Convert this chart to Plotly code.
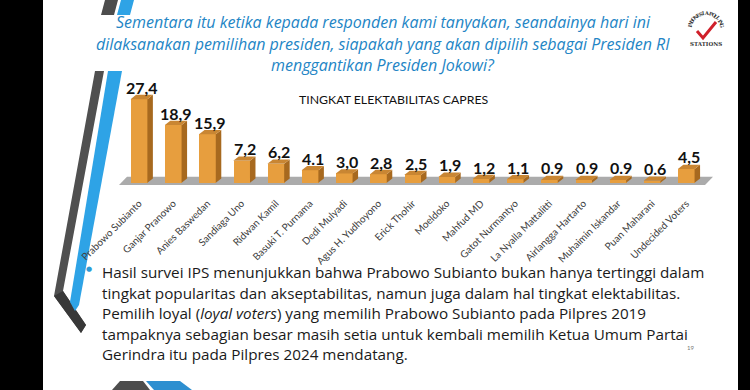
import math
import plotly.graph_objects as go

# ---------------- data ----------------
categories = ["Prabowo Subianto", "Ganjar Pranowo", "Anies Baswedan", "Sandiaga Uno",
              "Ridwan Kamil", "Basuki T. Purnama", "Dedi Mulyadi", "Agus H. Yudhoyono",
              "Erick Thohir", "Moeldoko", "Mahfud MD", "Gatot Nurmantyo",
              "La Nyalla Mattalitti", "Airlangga Hartarto", "Muhaimin Iskandar",
              "Puan Maharani", "Undecided Voters"]
values = [27.4, 18.9, 15.9, 7.2, 6.2, 4.1, 3.0, 2.8, 2.5, 1.9, 1.2, 1.1, 0.9, 0.9, 0.9, 0.6, 4.5]
value_labels = ["27,4", "18,9", "15,9", "7,2", "6,2", "4.1", "3,0", "2,8", "2,5", "1,9",
                "1,2", "1,1", "0.9", "0.9", "0.9", "0.6", "4,5"]
chart_title = "TINGKAT ELEKTABILITAS CAPRES"
header_lines = [
    "Sementara itu ketika kepada responden kami tanyakan, seandainya hari ini",
    "dilaksanakan pemilihan presiden, siapakah yang akan dipilih sebagai Presiden RI",
    "menggantikan Presiden Jokowi?",
]
body_lines = [
    "Hasil survei IPS menunjukkan bahwa Prabowo Subianto bukan hanya tertinggi dalam",
    "tingkat popularitas dan akseptabilitas, namun juga dalam hal tingkat elektabilitas.",
    "Pemilih loyal (<i>loyal voters</i>) yang memilih Prabowo Subianto pada Pilpres 2019",
    "tampaknya sebagian besar masih setia untuk kembali memilih Ketua Umum Partai",
    "Gerindra itu pada Pilpres 2024 mendatang.",
]
logo_arc_text = "INDONESIA POLLING"
logo_bottom_text = "STATIONS"
page_number = "19"

# ---------------- geometry helpers ----------------
W, H = 750, 390
def px(x):
    return x / W
def py(y):
    return 1 - y / H

STEP = 34.2
UNIT = 3.05
X0PX = 139.0
Y0PX = 182.7
xr = [-0.8, 16.9]
yr = [-2.0, 31.0]
xdom = [px(X0PX + STEP * xr[0]), px(X0PX + STEP * xr[1])]
ydom = [py(Y0PX - UNIT * yr[0]), py(Y0PX - UNIT * yr[1])]

BW = 0.49
DX = 5.5 / STEP
DY = 4.3 / UNIT

FRONT = "#E79E3E"
SIDE = "#A7691F"
TOP = "#C98633"

shapes = []
shapes.append(dict(type="rect", xref="paper", yref="paper", x0=px(43), x1=px(738), y0=0, y1=1,
                   fillcolor="white", line_width=0, layer="below"))

def ppath(pts, close=True):
    s = "M" + " L".join(f"{px(a):.5f},{py(b):.5f}" for a, b in pts)
    return s + (" Z" if close else "")

deco = [
    ([(105, 0), (118, 0), (114, 15), (101, 15)], "#4D4D4D"),
    ([(121, 0), (134, 0), (130, 15), (117, 15)], "#2EA3E6"),
    ([(95, 71), (104, 71), (63, 291), (86, 325), (81, 333), (54, 296)], "#505050"),
    ([(54, 296), (63, 291), (86, 325), (81, 333)], "#383838"),
    ([(108, 71), (122, 71), (79, 305), (75, 311), (70, 302)], "#2EA3E6"),
    ([(112, 390), (120, 381), (143, 381), (150, 390)], "#4D4D4D"),
    ([(146, 381), (180, 381), (192, 390), (154, 390)], "#2E8FD0"),
]
for pts, col in deco:
    shapes.append(dict(type="path", xref="paper", yref="paper", path=ppath(pts),
                       fillcolor=col, line_width=0, layer="below"))

# floor
fl_front = -0.75
fl_back = 1.97
fx0 = -0.585
fx1 = 16.55
fsh = 8 / STEP
shapes.append(dict(type="path", xref="x", yref="y", layer="below",
                   path=f"M{fx0},{fl_front} L{fx1},{fl_front} L{fx1+fsh},{fl_back} L{fx0+fsh},{fl_back} Z",
                   fillcolor="#ABABAB", line_width=0))

for i, v in enumerate(values):
    l = i - BW / 2
    r = i + BW / 2
    shapes.append(dict(type="path", xref="x", yref="y", layer="above",
                       path=f"M{r},0 L{r},{v} L{r+DX},{v+DY} L{r+DX},{DY} Z",
                       fillcolor=SIDE, line_width=0))
    shapes.append(dict(type="path", xref="x", yref="y", layer="above",
                       path=f"M{l},{v} L{r},{v} L{r+DX},{v+DY} L{l+DX},{v+DY} Z",
                       fillcolor=TOP, line_width=0))

# logo check mark
shapes.append(dict(type="path", xref="paper", yref="paper",
                   path=ppath([(697, 31), (703, 38), (716, 22)], close=False),
                   line=dict(color="#D0202A", width=3)))

fig = go.Figure()
fig.add_trace(go.Bar(x=categories, y=values, width=BW, marker=dict(color=FRONT, line_width=0),
                     hoverinfo="x+y"))

annotations = []
for i, (v, lab) in enumerate(zip(values, value_labels)):
    annotations.append(dict(x=categories[i], y=v, xref="x", yref="y", text=f"<b>{lab}</b>",
                            showarrow=False, xanchor="center", yanchor="middle", xshift=3, yshift=12,
                            font=dict(family="Lato", size=16, color="#111111")))

annotations.append(dict(x=px(394), y=py(100), xref="paper", yref="paper", text=chart_title,
                        showarrow=False, xanchor="center", yanchor="middle",
                        font=dict(family="Lato", size=12.3, color="#111111")))

for line, yy in zip(header_lines, [22, 43.5, 65]):
    annotations.append(dict(x=px(383), y=py(yy), xref="paper", yref="paper", text=f"<i>{line}</i>",
                            showarrow=False, xanchor="center", yanchor="middle",
                            font=dict(family="Open Sans", size=16, color="#2385C5")))

for line, yy in zip(body_lines, [272, 292.5, 313, 333.5, 354]):
    annotations.append(dict(x=px(100), y=py(yy), xref="paper", yref="paper", text=line,
                            showarrow=False, xanchor="left", yanchor="middle",
                            font=dict(family="Open Sans", size=15.25, color="#1A1A1A")))

annotations.append(dict(x=px(89), y=py(269), xref="paper", yref="paper", text="●",
                        showarrow=False, xanchor="center", yanchor="middle",
                        font=dict(family="DejaVu Sans", size=7, color="#2E9BD6")))
annotations.append(dict(x=px(690), y=py(347), xref="paper", yref="paper", text=page_number,
                        showarrow=False, xanchor="center", yanchor="middle",
                        font=dict(family="Lato", size=6, color="#777777")))

# logo: arc text + bottom word
annotations.append(dict(x=px(706), y=py(44), xref="paper", yref="paper", text=f"<b>{logo_bottom_text}</b>",
                        showarrow=False, xanchor="center", yanchor="middle",
                        font=dict(family="DejaVu Serif", size=5.5, color="#333333")))
cx, cy, rad = 706, 30, 17
n = len(logo_arc_text)
for k, ch in enumerate(logo_arc_text):
    if ch == " ":
        continue
    th = 165 - 150 * k / (n - 1)
    t = math.radians(th)
    annotations.append(dict(x=px(cx + rad * math.cos(t)), y=py(cy - rad * math.sin(t)),
                            xref="paper", yref="paper", text=f"<b>{ch}</b>", showarrow=False,
                            xanchor="center", yanchor="middle", textangle=90 - th,
                            font=dict(family="DejaVu Serif", size=5, color="#333333")))

fig.update_layout(
    template="none",
    width=W, height=H,
    margin=dict(l=0, r=0, t=0, b=0, autoexpand=False),
    paper_bgcolor="black",
    plot_bgcolor="rgba(0,0,0,0)",
    showlegend=False,
    bargap=0,
    shapes=shapes,
    annotations=annotations,
    xaxis=dict(domain=xdom, range=xr, showgrid=False, zeroline=False, showline=False,
               automargin=False, ticks="", tickangle=-45, ticklabelstandoff=6,
               tickfont=dict(family="Lato", size=10, color="#404040"),
               fixedrange=True),
    yaxis=dict(domain=ydom, range=yr, visible=False, automargin=False, fixedrange=True),
)

fig.write_html("out.html", config={"displayModeBar": False},
               post_script="document.body.style.margin='0';document.body.style.background='black';")
